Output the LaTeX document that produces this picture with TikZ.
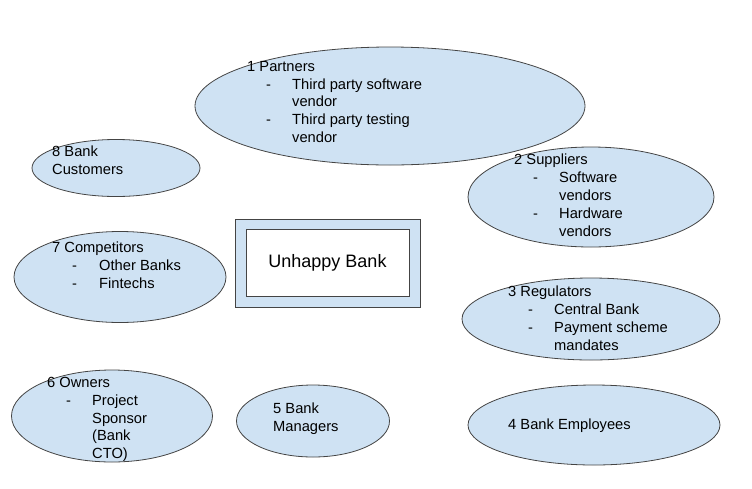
\documentclass[tikz,border=0pt]{standalone}
\usepackage{fontspec}
\setmainfont{Liberation Sans}
\usetikzlibrary{shapes.geometric}
\definecolor{bubble}{HTML}{CFE2F3}
\definecolor{rim}{HTML}{444444}
\newcommand{\itm}[1]{\makebox[45pt][l]{\hspace{19pt}-}#1}
\newcommand{\cnt}[1]{\hspace*{45pt}#1}
\begin{document}
\begin{tikzpicture}[x=1pt,y=-1pt]
  \tikzstyle{party}=[ellipse,draw=rim,fill=bubble,line width=0.8pt,inner sep=0pt]
  \tikzstyle{txt}=[anchor=north west,inner sep=0pt,align=left,
                   font=\fontsize{14.7}{17.8}\selectfont]
  \useasboundingbox (0,0) rectangle (752,488);

  \node[party,minimum width=390pt,minimum height=118pt] (partners)   at (390,106) {};
  \node[party,minimum width=168pt,minimum height=57pt]  (customers)  at (116,168) {};
  \node[party,minimum width=246pt,minimum height=100pt] (suppliers)  at (591,197) {};
  \node[party,minimum width=212pt,minimum height=91pt]  (competitors) at (120,277) {};
  \node[party,minimum width=258pt,minimum height=82pt]  (regulators) at (591,319) {};
  \node[party,minimum width=201pt,minimum height=92pt]  (owners)     at (112,416) {};
  \node[party,minimum width=153pt,minimum height=72pt]  (managers)   at (313,421) {};
  \node[party,minimum width=252pt,minimum height=80pt]  (employees)  at (594,425) {};

  \node[draw=rim,fill=bubble,line width=0.8pt,minimum width=185pt,minimum height=88pt] (bank) at (327.5,263) {};
  \node[draw=rim,fill=white,line width=0.8pt,minimum width=163pt,minimum height=67pt,
        font=\fontsize{18}{20}\selectfont] (core) at (bank) {Unhappy Bank};

  \node[txt] (partnerst) at (247,61) {1 Partners\\ \itm{Third party software}\\ \cnt{vendor}\\ \itm{Third party testing}\\ \cnt{vendor}};
  \node[txt] (customerst) at (52,146) {8 Bank\\ Customers};
  \node[txt] (supplierst) at (514,154) {2 Suppliers\\ \itm{Software}\\ \cnt{vendors}\\ \itm{Hardware}\\ \cnt{vendors}};
  \node[txt] (competitorst) at (52,242) {7 Competitors\\ \makebox[47pt][l]{\hspace{20pt}-}Other Banks\\ \makebox[47pt][l]{\hspace{20pt}-}Fintechs};
  \node[txt] (regulatorst) at (508,286) {3 Regulators\\ \makebox[46pt][l]{\hspace{20pt}-}Central Bank\\ \makebox[46pt][l]{\hspace{20pt}-}Payment scheme\\ \hspace*{46pt}mandates};
  \node[txt] (ownerst) at (47,377) {6 Owners\\ \itm{Project}\\ \cnt{Sponsor}\\ \cnt{(Bank}\\ \cnt{CTO)}};
  \node[txt] (managerst) at (273,403) {5 Bank\\ Managers};
  \node[txt] (employeest) at (508,419) {4 Bank Employees};
\end{tikzpicture}
\end{document}
